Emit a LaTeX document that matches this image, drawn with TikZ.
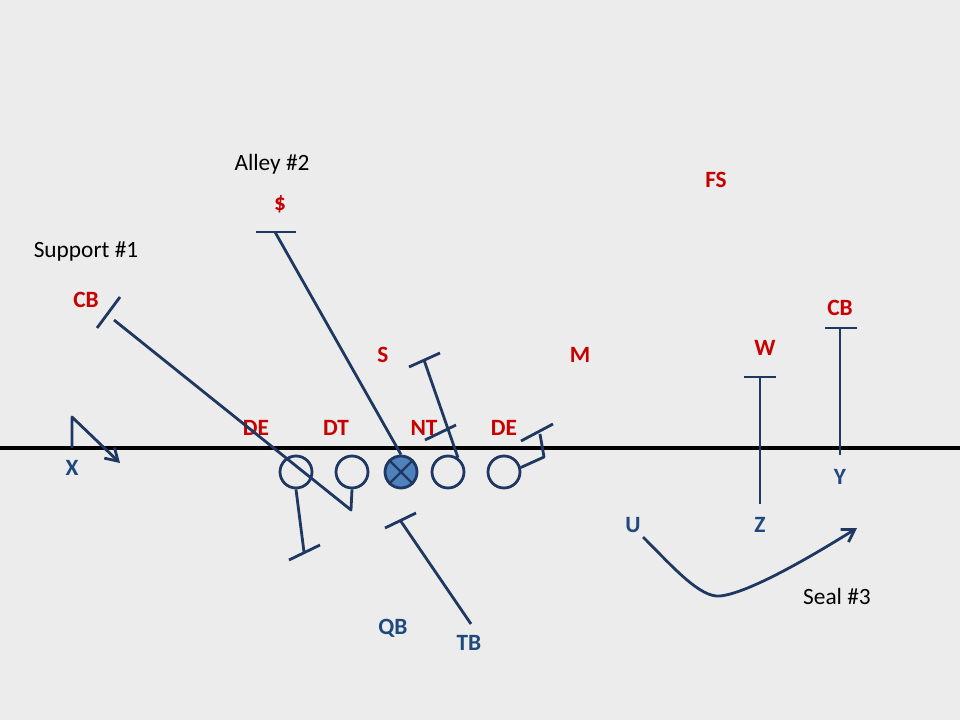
\documentclass[tikz,border=0pt]{standalone}
\usepackage{fontspec}
\setmainfont{Carlito}
\usepackage{tikz}
\usetikzlibrary{arrows.meta}

\definecolor{playred}{RGB}{200,0,0}
\definecolor{playblue}{RGB}{31,73,125}
\definecolor{routeblue}{RGB}{30,56,98}
\definecolor{centerfill}{RGB}{79,129,189}
\definecolor{fieldgray}{RGB}{236,236,236}

\begin{document}
\begin{tikzpicture}[x=0.75pt,y=-0.75pt]
\tikzstyle{player} = [draw=routeblue, shape=circle, line width=2.1pt, minimum size=24pt, inner sep=0pt]
\tikzstyle{defense} = [text=playred, font=\fontsize{17.5}{20}\selectfont\bfseries]
\tikzstyle{offense} = [text=playblue, font=\fontsize{17.5}{20}\selectfont\bfseries]
\tikzstyle{note} = [text=black, font=\fontsize{17.5}{20}\selectfont]
\tikzstyle{route} = [draw=routeblue, line width=2.1pt, line join=round]
\tikzstyle{routetip} = [route, -{Straight Barb[length=9pt,width=11pt,line width=2.1pt]}]
  \fill[fieldgray] (0,0) rectangle (960,720);
  \useasboundingbox (0,0) rectangle (960,720);

  % line of scrimmage
  \coordinate (losl) at (0,448);
  \coordinate (losr) at (960,448);
  \draw [black, line width=2.4pt] (losl) -- (losr);

  \draw
  node (lt) [player] at (296,472) {}
  node (lg) [player] at (352,472) {}
  node (c) [player, fill=centerfill] at (401,472) {}
  node (rg) [player] at (448,472) {}
  node (rt) [player] at (504,472) {};
  \draw [route, line width=1.6pt] (c.45) -- (c.225) (c.135) -- (c.315);

  \draw
  node (del) [defense] at (256,428) {DE}
  node (dt) [defense] at (336,428) {DT}
  node (nt) [defense] at (424,428) {NT}
  node (der) [defense] at (504,428) {DE}
  node (s) [defense] at (383,355) {S}
  node (m) [defense] at (580,355) {M}
  node (fs) [defense] at (716,180) {FS}
  node (w) [defense] at (765,348) {W}
  node (cbr) [defense] at (840,308) {CB}
  node (cbl) [defense] at (86,300) {CB}
  node (ss) [defense] at (280,204) {\$};

  \draw
  node (x) [offense] at (72,468) {X}
  node (y) [offense] at (840,477) {Y}
  node (z) [offense] at (760,525) {Z}
  node (u) [offense] at (633,525) {U}
  node (qb) [offense] at (393,628) {QB}
  node (tb) [offense] at (469,643) {TB};

  \draw
  node (alley) [note] at (272,164) {Alley \#2}
  node (support) [note] at (86,252) {Support \#1}
  node (seal) [note] at (837,596) {Seal \#3};

  % X
  \coordinate (xs) at (72,448);
  \coordinate (xt) at (72,417);
  \coordinate (xe) at (120,463);
  \draw [routetip] (xs) -- (xt) -- (xe);

  % pulling guard to the corner
  \coordinate (lgdrop) at (351,510);
  \coordinate (cbblk) at (114,320);
  \coordinate (cbbar) at (108,312);
  \draw [route] (lg.south) -- (lgdrop) -- (cbblk);
  \draw [route] (cbbar) ++(-11,16) -- ++(23,-31);

  % center to the alley
  \coordinate (ssbar) at (275,232);
  \draw [route] (c.north) -- (ssbar);
  \draw [route] (ssbar) ++(-19,0) -- ++(40,0);

  % tackles and guard
  \coordinate (ltblk) at (304,552);
  \draw [route] (lt.south) -- (ltblk);
  \draw [route] (ltblk) ++(-15,8) -- ++(31,-15);

  \coordinate (rgnt) at (441,432);
  \coordinate (rgs) at (424,360);
  \draw [route] (rg.55) -- (rgs);
  \draw [route] (rgnt) ++(-16,8) -- ++(31,-15);
  \draw [route] (rgs) ++(-15,7) -- ++(31,-14);

  \coordinate (rtk) at (544,457);
  \coordinate (rtblk) at (540,434);
  \draw [route] (rt.15) -- (rtk) -- (rtblk);
  \draw [route] (537,432) ++(-16,9) -- ++(32,-17);

  % back
  \coordinate (tbs) at (471,624);
  \coordinate (tbblk) at (400,520);
  \draw [route] (tbs) -- (tbblk);
  \draw [route] (tbblk) ++(-15,8) -- ++(31,-15);

  % receivers
  \coordinate (zs) at (760,504);
  \coordinate (zblk) at (760,377);
  \draw [route] (zs) -- (zblk);
  \draw [route] (zblk) ++(-16,0) -- ++(32,0);

  \coordinate (ys) at (840,455);
  \coordinate (yblk) at (840,328);
  \draw [route] (ys) -- (yblk);
  \draw [route] (yblk) ++(-15,0) -- ++(32,0);

  \coordinate (us) at (643,537);
  \coordinate (ulow) at (720,596);
  \coordinate (ue) at (857,528);
  \draw [routetip] (us) .. controls (673,567) and (700,598) .. (ulow)
    .. controls (750,593) and (817,553) .. (ue);
  %\draw [dashed] (u) -- (seal);
\end{tikzpicture}
\end{document}
